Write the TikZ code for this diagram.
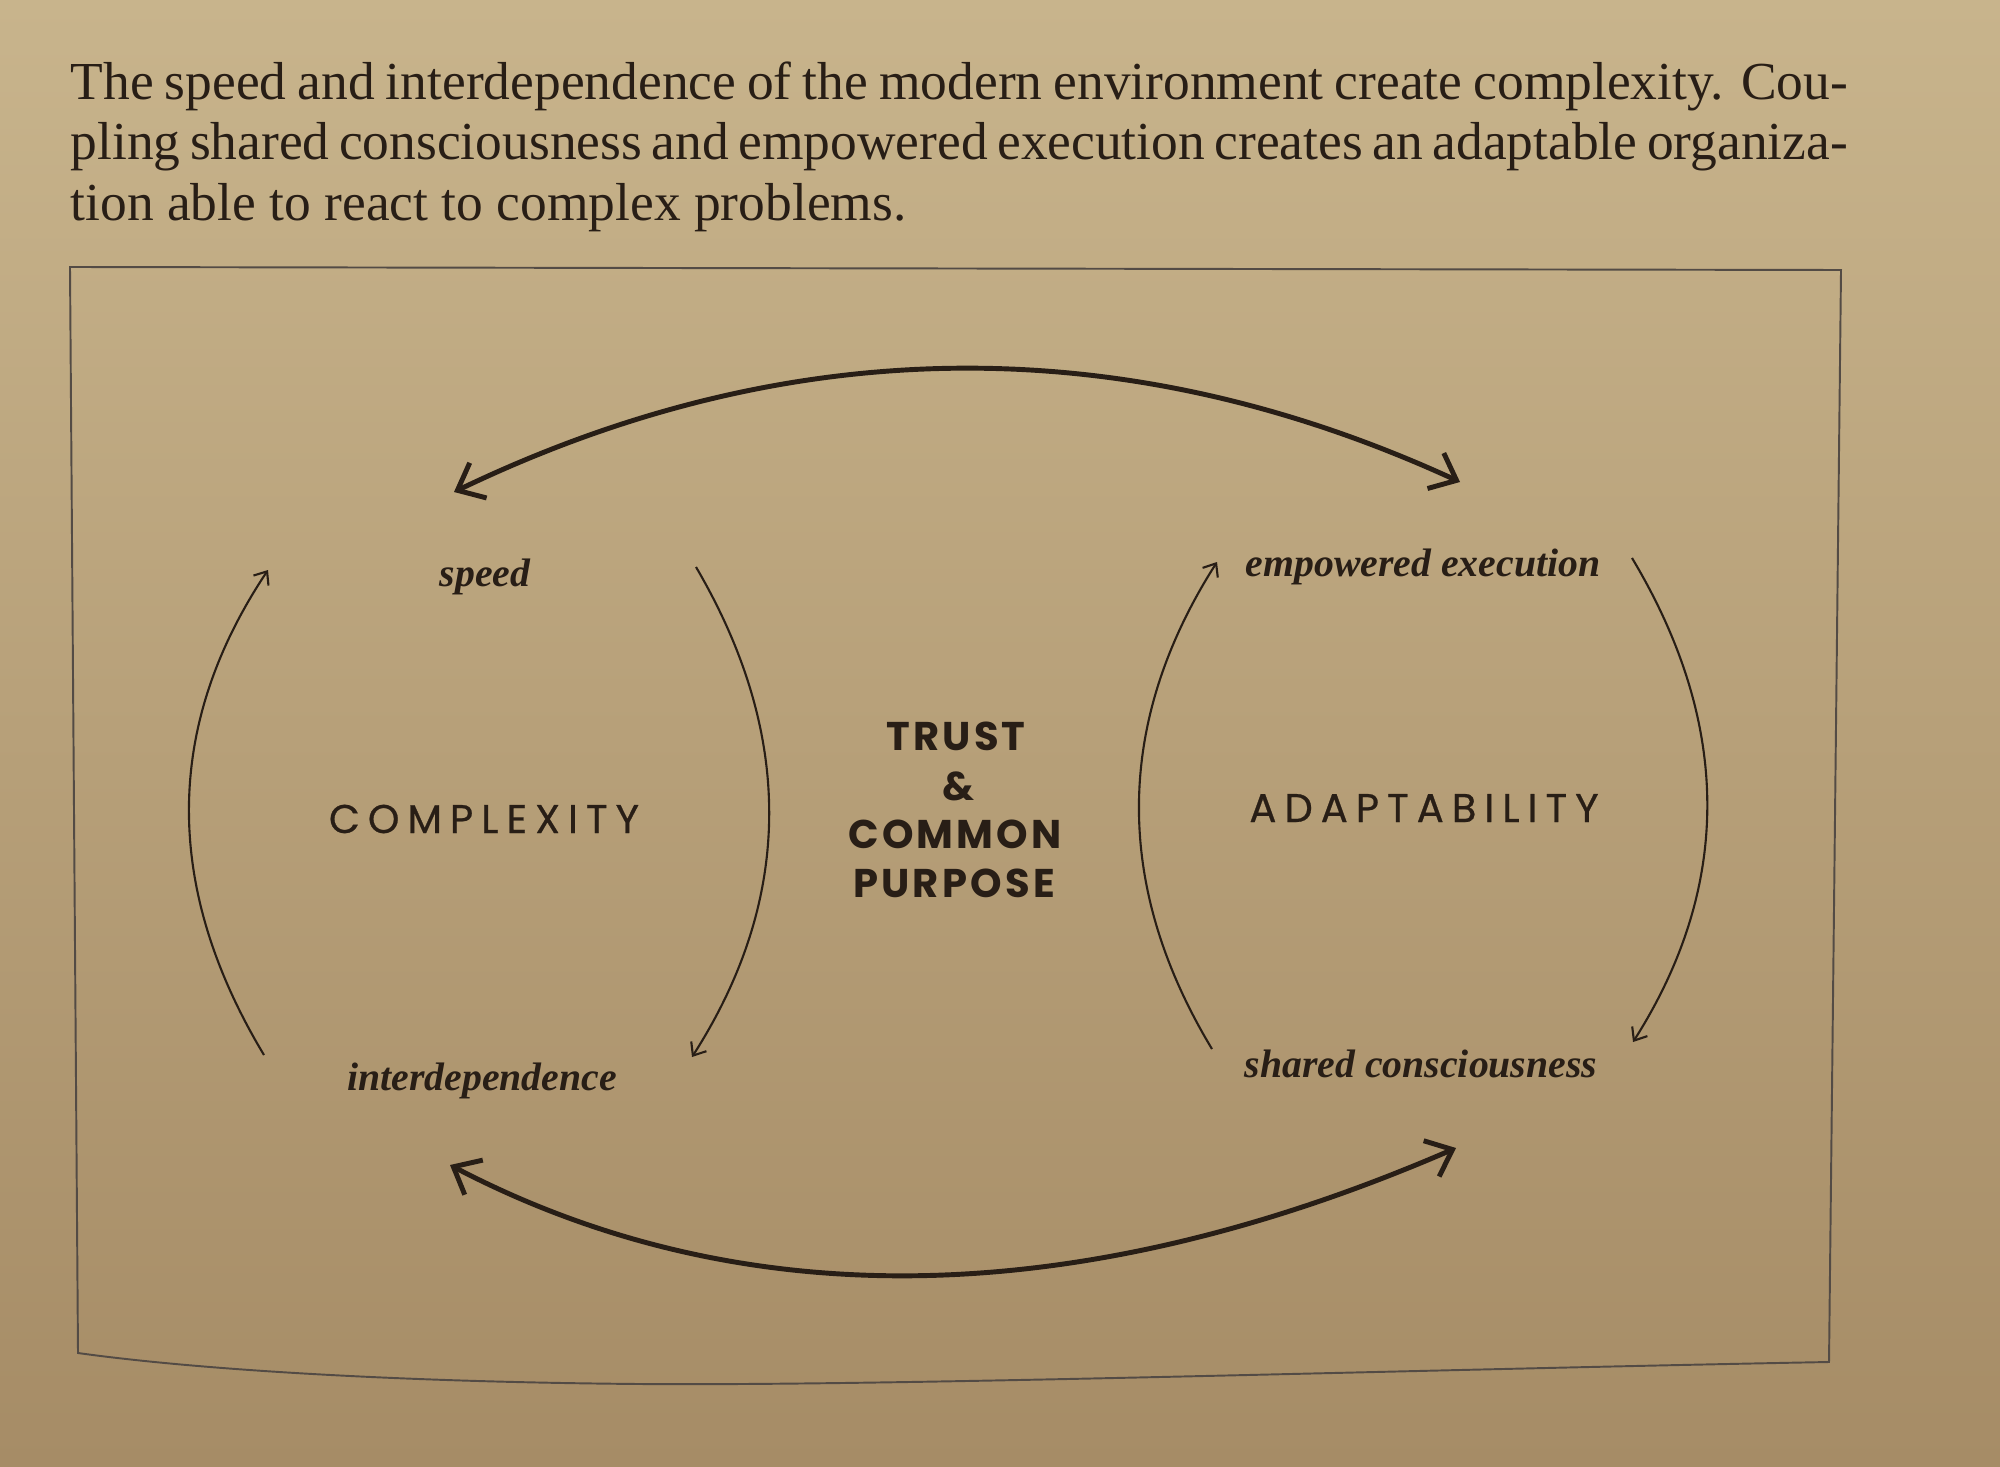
\documentclass[tikz,border=0pt]{standalone}
\usepackage{fontspec}
\setmainfont{Liberation Serif}
\newfontfamily\capsfont[LetterSpace=20,FakeBold=0.6]{Poppins}
\newfontfamily\midfont[LetterSpace=8]{Poppins}
\usetikzlibrary{arrows.meta}
\definecolor{ink}{RGB}{40,30,22}
\definecolor{papertop}{RGB}{200,180,140}
\definecolor{paperbot}{RGB}{166,140,102}
\tikzset{
  bigarc/.style={draw=ink, line width=1.4pt,
    {Straight Barb[length=2.3mm,width=3.9mm]}-{Straight Barb[length=2.3mm,width=3.9mm]}},
  smallarc/.style={draw=ink, line width=0.6pt,
    -{Straight Barb[length=1.1mm,width=1.8mm]}},
  plainarc/.style={draw=ink, line width=0.6pt},
  framebox/.style={draw=ink!80, line width=0.55pt},
  bodytext/.style={inner sep=0pt, anchor=base west, text=ink,
    font=\fontsize{15.2}{18}\selectfont},
  lab/.style={inner sep=0pt, anchor=base, text=ink,
    font=\fontsize{11.3}{13}\selectfont\bfseries\itshape},
  capslab/.style={inner sep=0pt, anchor=base, text=ink,
    font=\fontsize{11.4}{13}\selectfont\capsfont},
  midlab/.style={inner sep=0pt, anchor=base, text=ink,
    font=\fontsize{11.4}{13}\selectfont\midfont\bfseries}
}
\begin{document}
\begin{tikzpicture}[x=0.01cm,y=-0.01cm]
\shade[top color=papertop, bottom color=paperbot] (0,0) rectangle (2000,1467);
\useasboundingbox (0,0) rectangle (2000,1467);

% caption text
\node[bodytext] (l1) at (70,100) {\makebox[17.76cm][s]{The speed and interdependence of the modern environment create complexity. Cou-}};
\node[bodytext] (l2) at (70,160) {\makebox[17.76cm][s]{pling shared consciousness and empowered execution creates an adaptable organiza-}};
\node[bodytext] (l3) at (70,221) {tion able to react to complex problems.};

% frame
\draw[framebox] (70,267) -- (1841,270) -- (1829,1362)
  .. controls (1400,1370) and (900,1386) .. (640,1384)
  .. controls (400,1382) and (200,1370) .. (78,1353) -- cycle;

% labels
\node[lab] (speed) at (485,587) {speed};
\node[lab] (inter) at (482,1090) {interdependence};
\node[lab] (emp) at (1423,577) {empowered execution};
\node[lab] (shared) at (1421,1077) {shared consciousness};
\node[capslab] (cplx) at (484,833) {COMPLEXITY};
\node[capslab] (adapt) at (1424,822) {ADAPTABILITY};
\node[midlab] (trust) at (956,750) {TRUST};
\node[midlab] (amp) at (958,800) {\&};
\node[midlab] (common) at (955,848) {COMMON};
\node[midlab] (purpose) at (954,897) {PURPOSE};

% end points of arcs
\coordinate (tl) at (454,492);
\coordinate (tr) at (1460,482);
\coordinate (bl) at (450,1165);
\coordinate (br) at (1456,1148);
\coordinate (llb) at (264,1055);
\coordinate (llt) at (268,570);
\coordinate (lrt) at (696,567);
\coordinate (lrb) at (692,1057);
\coordinate (rlb) at (1212,1049);
\coordinate (rlt) at (1217,562);
\coordinate (rrt) at (1632,558);
\coordinate (rrb) at (1633,1042);

% big arcs
\draw[bigarc] (tl) .. controls (789,331) and (1125,328) .. (tr);
\draw[bigarc] (bl) .. controls (741,1317) and (1077,1312) .. (br);

% small arcs
\draw[smallarc] (llb) .. controls (163,887) and (164,726) .. (llt);
\draw[smallarc] (lrt) .. controls (795,736) and (793,899) .. (lrb);
\draw[smallarc] (rlb) .. controls (1113,885) and (1115,722) .. (rlt);
\draw[smallarc] (rrt) .. controls (1732,725) and (1732,886) .. (rrb);
\end{tikzpicture}
\end{document}
